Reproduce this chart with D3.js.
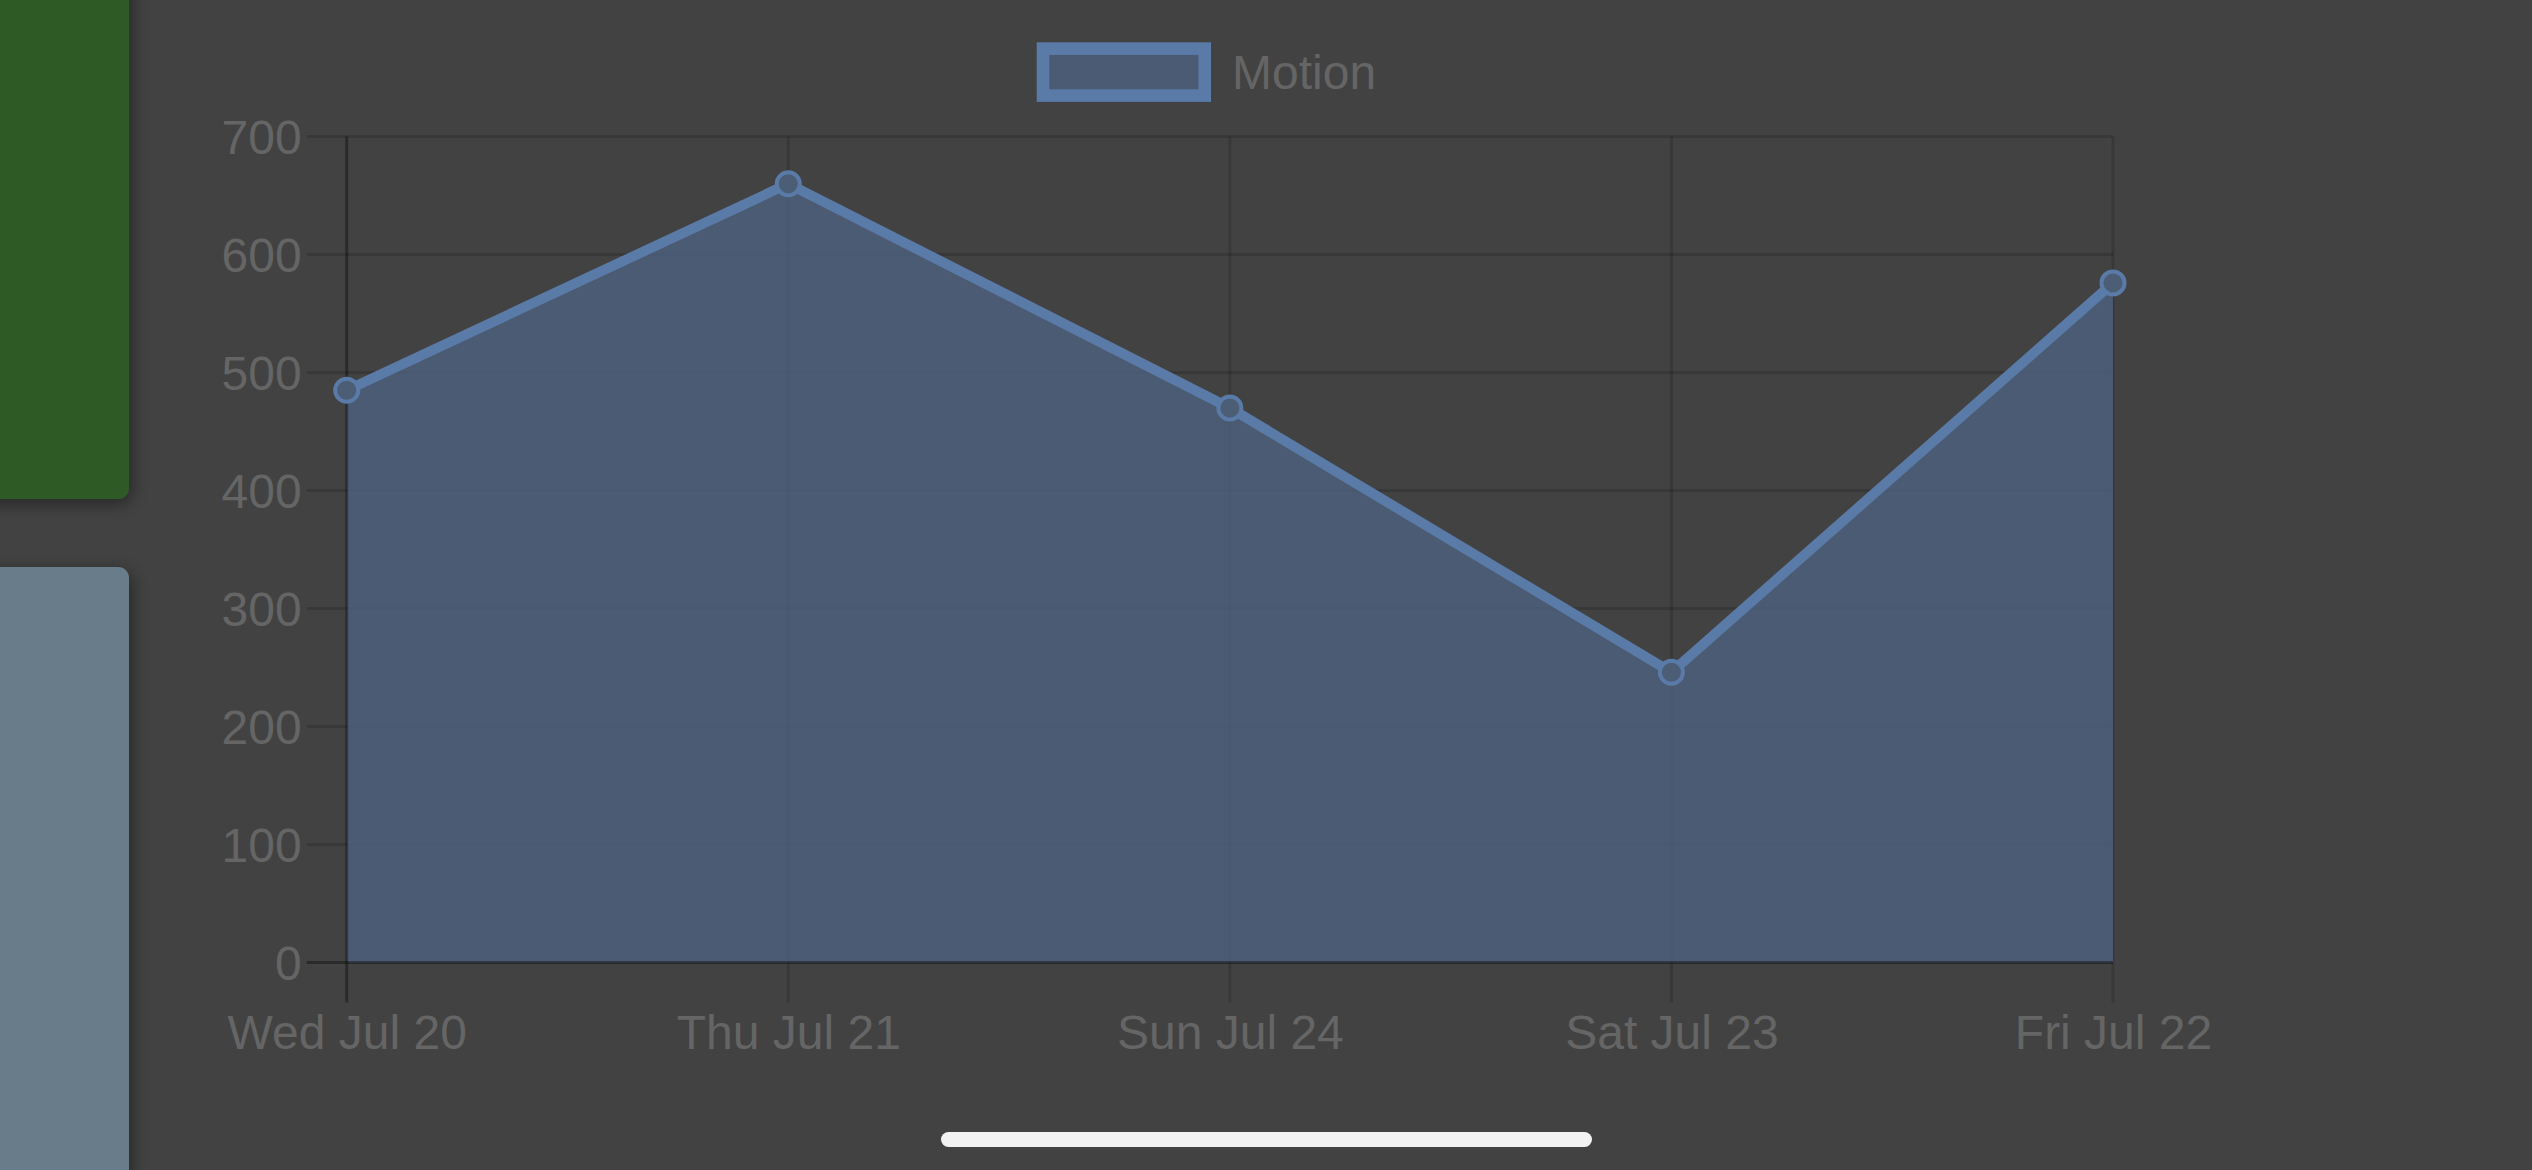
<!DOCTYPE html>
<html>
<head>
<meta charset="utf-8">
<script src="https://cdn.jsdelivr.net/npm/d3@7"></script>
<style>
  html, body { margin: 0; padding: 0; background: #424242; overflow: hidden; }
  svg { display: block; }
</style>
</head>
<body>
<svg id="chart" width="2532" height="1170"></svg>
<script>
// ---- data ----
const categories = ["Wed Jul 20", "Thu Jul 21", "Sun Jul 24", "Sat Jul 23", "Fri Jul 22"];
const motionValues = [485, 660, 470, 246, 576];
const yTickValues = [0, 100, 200, 300, 400, 500, 600, 700];
const seriesName = "Motion";

// ---- layout / style ----
const W = 2532, H = 1170;
const plot = { left: 346.7, right: 2113, top: 136.6, bottom: 962.5 };
const FONT = "'Liberation Sans', Arial, Helvetica, sans-serif";
const textColor = "#656565";
const lineColor = "#5a7aa7";
const fillColor = "rgba(78,97,127,0.8)";
const gridColor = "rgba(0,0,0,0.15)";
const axisColor = "rgba(0,0,0,0.36)";

const svg = d3.select("#chart");

svg.append("rect").attr("width", W).attr("height", H).attr("fill", "#424242");

// shadow filter for side panels
const defs = svg.append("defs");
const f = defs.append("filter").attr("id", "shadow").attr("x", "-50%").attr("y", "-50%").attr("width", "200%").attr("height", "200%");
f.append("feDropShadow").attr("dx", 2).attr("dy", 4).attr("stdDeviation", 9)
  .attr("flood-color", "#000").attr("flood-opacity", 0.45);

// left side panels (partially visible cards)
svg.append("rect").attr("x", -30).attr("y", -30).attr("width", 159).attr("height", 529)
  .attr("rx", 11).attr("fill", "#2f5a28").attr("filter", "url(#shadow)");
svg.append("rect").attr("x", -30).attr("y", 567).attr("width", 159).attr("height", 700)
  .attr("rx", 11).attr("fill", "#677c89").attr("filter", "url(#shadow)");

// scales
const x = d3.scalePoint().domain(categories).range([plot.left, plot.right]);
const y = d3.scaleLinear().domain([0, 700]).range([plot.bottom, plot.top]);

const data = categories.map((c, i) => ({ c, v: motionValues[i] }));

// gridlines (under the fill)
const grid = svg.append("g");
grid.selectAll(".hg").data(yTickValues.filter(d => d !== 0)).enter().append("line")
  .attr("x1", plot.left - 40).attr("x2", plot.right)
  .attr("y1", d => y(d)).attr("y2", d => y(d))
  .attr("stroke", gridColor).attr("stroke-width", 3);
grid.selectAll(".vg").data(categories.slice(1)).enter().append("line")
  .attr("x1", d => x(d)).attr("x2", d => x(d))
  .attr("y1", plot.top).attr("y2", plot.bottom + 40)
  .attr("stroke", gridColor).attr("stroke-width", 3);

// area fill
const area = d3.area().x(d => x(d.c)).y0(y(0)).y1(d => y(d.v));
svg.append("path").datum(data).attr("d", area).attr("fill", fillColor);

// axis lines (zero line and first category line)
svg.append("line").attr("x1", plot.left - 40).attr("x2", plot.right)
  .attr("y1", y(0)).attr("y2", y(0)).attr("stroke", axisColor).attr("stroke-width", 3);
svg.append("line").attr("x1", x(categories[0])).attr("x2", x(categories[0]))
  .attr("y1", plot.top).attr("y2", plot.bottom + 40).attr("stroke", axisColor).attr("stroke-width", 3);

// y axis labels
const yAxis = d3.axisLeft(y).tickValues(yTickValues).tickSize(40).tickPadding(5).tickFormat(d3.format("d"));
const gy = svg.append("g").attr("transform", `translate(${plot.left},0)`).call(yAxis);
gy.select(".domain").remove();
gy.selectAll(".tick line").remove();
gy.selectAll("text").attr("font-family", FONT).attr("font-size", 48).attr("fill", textColor).attr("dy", "0.355em");

// x axis labels
const xAxis = d3.axisBottom(x).tickSize(40).tickPadding(12);
const gx = svg.append("g").attr("transform", `translate(0,${plot.bottom})`).call(xAxis);
gx.select(".domain").remove();
gx.selectAll(".tick line").remove();
gx.selectAll("text").attr("font-family", FONT).attr("font-size", 48).attr("fill", textColor);

// line
const line = d3.line().x(d => x(d.c)).y(d => y(d.v));
svg.append("path").datum(data).attr("d", line).attr("fill", "none")
  .attr("stroke", lineColor).attr("stroke-width", 10).attr("stroke-linejoin", "miter");

// points
svg.selectAll(".pt").data(data).enter().append("circle")
  .attr("cx", d => x(d.c)).attr("cy", d => y(d.v)).attr("r", 11.5)
  .attr("fill", "#4c5d76").attr("stroke", lineColor).attr("stroke-width", 4);

// legend
const lg = svg.append("g");
lg.append("rect").attr("x", 1043).attr("y", 48.6).attr("width", 161.7).attr("height", 47)
  .attr("fill", "#4b5b74").attr("stroke", lineColor).attr("stroke-width", 12.6);
lg.append("text").attr("x", 1232).attr("y", 89).text(seriesName)
  .attr("font-family", FONT).attr("font-size", 48).attr("fill", textColor);

// home indicator
svg.append("rect").attr("x", 941).attr("y", 1132).attr("width", 651).attr("height", 15)
  .attr("rx", 7.5).attr("fill", "#f2f2f2");
</script>
</body>
</html>
